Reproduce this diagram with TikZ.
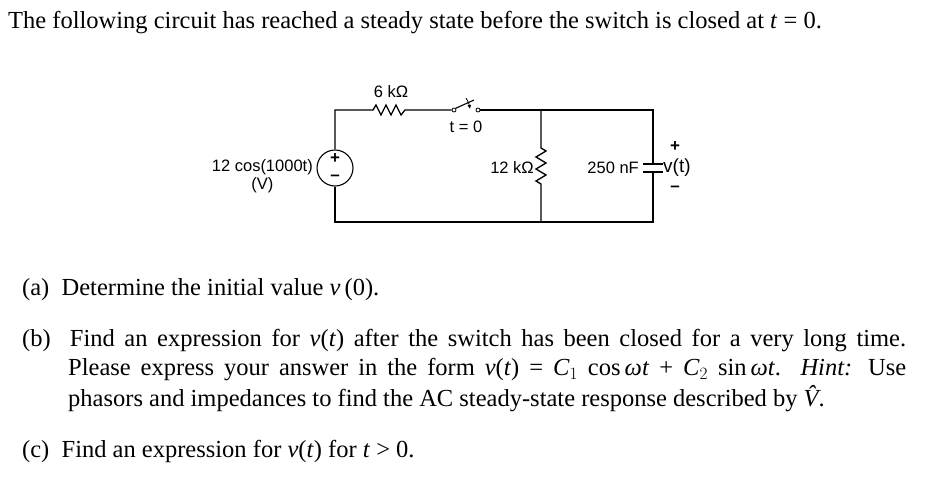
\documentclass[tikz,border=0pt]{standalone}
\usepackage{fontspec}
\usetikzlibrary{arrows.meta}
\setmainfont{Liberation Serif}
\newfontfamily\cfont{Liberation Sans}
\newcommand{\vi}[1]{\textit{#1}}
\begin{document}
\begin{tikzpicture}[x=1pt,y=-1pt,
  wire/.style={line width=1.3pt},
  clab/.style={font=\cfont\fontsize{16.5}{18}\selectfont,inner sep=1pt},
  sgn/.style={font=\cfont\bfseries\fontsize{17}{19}\selectfont,inner sep=0pt},
  txt/.style={font=\fontsize{24.5}{29}\selectfont,anchor=west,inner sep=0pt,align=left},
  term/.style={circle,draw,fill=white,inner sep=0pt,minimum size=4pt,line width=0.8pt}]
\useasboundingbox (0,0) rectangle (940,485);
% nodes
\coordinate (tl) at (335,110);
\coordinate (bl) at (335,222);
\coordinate (tm) at (541,110);
\coordinate (bm) at (541,222);
\coordinate (tr) at (653,110);
\coordinate (br) at (653,222);
\node[circle,draw,line width=1.1pt,minimum size=36pt,inner sep=0pt] (src) at (335,168) {};
\node[term] (s1) at (454,110) {};
\node[term] (s2) at (478,110) {};
% wires
\draw[wire] (src.north) -- (tl) -- (373,110)
  -- ++(3,-5) -- ++(5,10) -- ++(5,-10) -- ++(5,10) -- ++(5,-10) -- ++(5,10) -- ++(4,-5) -- (s1.west);
\draw[wire] (s2.east) -- (tr) -- (653,164);
\draw[wire] (653,172) -- (br) -- (bl) -- (src.south);
\draw[wire] (tm) -- (541,148) -- ++(5,3) -- ++(-10,6) -- ++(10,6) -- ++(-10,6) -- ++(10,6) -- ++(-10,6) -- ++(5,3) -- (bm);
\draw[wire] (643,164) -- (663,164);
\draw[wire] (643,172) -- (663,172);
% switch blade
\draw[line width=1.1pt] (s1.north east) -- (474,100);
\draw[-{Latex[length=4pt,width=4pt]},line width=0.8pt] (466,98) to[bend left=10] (470,109);
% labels
\node[clab] at (391,92) {6 kΩ};
\node[clab] at (466,127) {t = 0};
\node[clab,anchor=east] at (535,168) {12 kΩ};
\node[clab,anchor=east] at (640,168) {250 nF};
\node[clab,anchor=west,font=\cfont\fontsize{19}{21}\selectfont] at (662,168) {v(t)};
\node[sgn] at (675,147) {+};
\node[sgn] at (675,189) {–};
\node[sgn] at (335,159) {+};
\node[sgn] at (335,178) {–};
\node[clab,anchor=east,align=center] at (314,176) {12 cos(1000t)\\(V)};
% text
\node[txt] at (8,23) {The following circuit has reached a steady state before the switch is closed at \vi{t} = 0.};
\node[txt] at (22,290) {(a)\ \ Determine the initial value \vi{v}\,(0).};
\node[txt] at (22,341) {\makebox[884pt][s]{(b)\ \ Find an expression for \vi{v}(\vi{t}) after the switch has been closed for a very long time.}};
\node[txt] at (68,370) {\makebox[838pt][s]{Please express your answer in the form \vi{v}(\vi{t}) = \vi{C}$_1$ cos\,\vi{ωt} + \vi{C}$_2$ sin\,\vi{ωt}. \textit{Hint:} Use}};
\node[txt] at (68,399) {phasors and impedances to find the AC steady-state response described by \vi{V̂}.};
\node[txt] at (22,451) {(c)\ \ Find an expression for \vi{v}(\vi{t}) for \vi{t} > 0.};
\end{tikzpicture}
\end{document}
